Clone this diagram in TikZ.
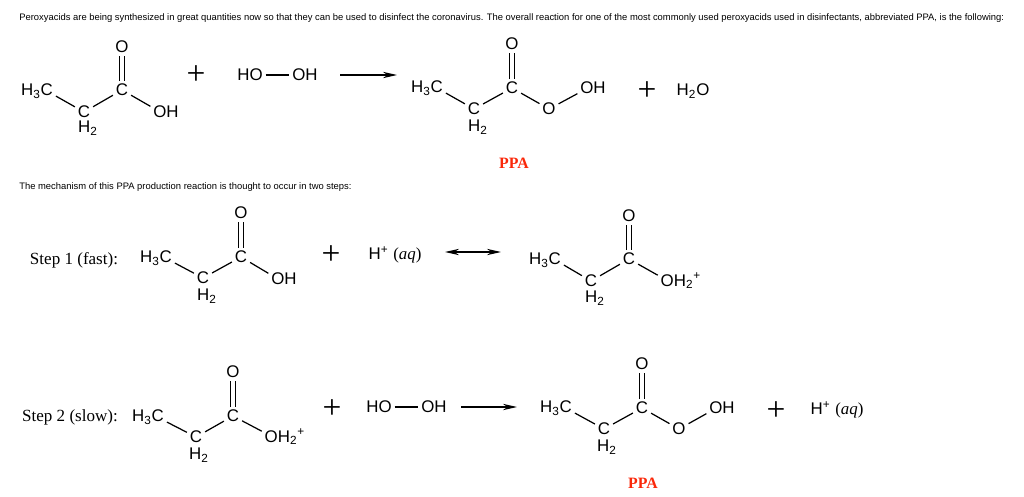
\documentclass[tikz,border=0pt]{standalone}
\usepackage{fontspec}
\usepackage{tikz}
\usetikzlibrary{arrows.meta}
\setmainfont{Liberation Sans}
\newfontfamily\serifface{Liberation Serif}

\begin{document}
\begin{tikzpicture}[x=0.2mm, y=-0.2mm,
    atom_node/.style={inner sep=1.5pt, font=\fontsize{9.6}{11}\selectfont},
    plus_node/.style={inner sep=0pt, font=\serifface\fontsize{19}{20}\selectfont},
    step_node/.style={inner sep=0pt, font=\serifface\fontsize{9.7}{11}\selectfont},
    ppa_node/.style={inner sep=0pt, text=ppa_red, font=\serifface\bfseries\fontsize{9}{11}\selectfont},
    text_node/.style={inner sep=0pt, anchor=west, font=\fontsize{5.35}{6}\selectfont},
    bond/.style={line width=0.7pt},
    double_bond/.style={line width=0.7pt, double, double distance=2.1pt},
    react_arrow/.style={line width=0.7pt, -{Stealth[length=8pt, width=3.6pt]}},
    eq_arrow/.style={line width=0.7pt, {Stealth[length=8pt, width=3.6pt]}-{Stealth[length=8pt, width=3.6pt]}}]
    \definecolor{ppa_red}{RGB}{250,40,10}
    \useasboundingbox (0, 0) rectangle (1024, 497);

    \node[text_node] (intro) at (19, 18) {Peroxyacids are being synthesized in great quantities now so that they can be used to disinfect the coronavirus. The overall reaction for one of the most commonly used peroxyacids used in disinfectants, abbreviated PPA, is the following:};
    \node[text_node] (mech) at (19, 187) {The mechanism of this PPA production reaction is thought to occur in two steps:};

    % overall reaction
    \node[atom_node] (a_ch3) at (37, 91) {H\textsubscript{3}C};
    \node[atom_node] (a_ch2) at (84, 112) {C};
    \node[atom_node] (a_h2) at (88, 128) {H\textsubscript{2}};
    \node[atom_node] (a_c) at (122, 90) {C};
    \node[atom_node] (a_o) at (122, 47) {O};
    \node[atom_node] (a_oh) at (166, 112) {OH};
    \draw[bond] (a_ch3.-15) -- (a_ch2) -- (a_c) -- (a_oh.160);
    \draw[double_bond] (a_c) -- (a_o);
    \node[plus_node] (plus1) at (196, 75) {+};
    \node[atom_node] (a_ho) at (250, 75) {HO};
    \node[atom_node] (a_oh2) at (305, 75) {OH};
    \draw[bond] (a_ho) -- (a_oh2);
    \coordinate (arr1_s) at (340, 75);
    \coordinate (arr1_e) at (397, 75);
    \draw[react_arrow] (arr1_s) -- (arr1_e);
    \node[atom_node] (b_ch3) at (427, 88) {H\textsubscript{3}C};
    \node[atom_node] (b_ch2) at (474, 109) {C};
    \node[atom_node] (b_h2) at (478, 127) {H\textsubscript{2}};
    \node[atom_node] (b_c) at (512, 88) {C};
    \node[atom_node] (b_o) at (512, 44) {O};
    \node[atom_node] (b_ox) at (549, 109) {O};
    \node[atom_node] (b_oh) at (593, 88) {OH};
    \draw[bond] (b_ch3.-15) -- (b_ch2) -- (b_c) -- (b_ox) -- (b_oh.200);
    \draw[double_bond] (b_c) -- (b_o);
    \node[ppa_node] (ppa1) at (514, 163) {PPA};
    \node[plus_node] (plus2) at (647, 91) {+};
    \node[atom_node] (water) at (693, 91) {H\textsubscript{2}O};

    % step 1
    \node[step_node] (step1) at (74, 260) {Step 1 (fast):};
    \node[atom_node] (c_ch3) at (156, 258) {H\textsubscript{3}C};
    \node[atom_node] (c_ch2) at (203, 278) {C};
    \node[atom_node] (c_h2) at (207, 296) {H\textsubscript{2}};
    \node[atom_node] (c_c) at (241, 257) {C};
    \node[atom_node] (c_o) at (241, 213) {O};
    \node[atom_node] (c_oh) at (284, 279) {OH};
    \draw[bond] (c_ch3.-15) -- (c_ch2) -- (c_c) -- (c_oh.160);
    \draw[double_bond] (c_c) -- (c_o);
    \node[plus_node] (plus3) at (331, 255) {+};
    \node[atom_node] (c_hp) at (395, 255) {H\textsuperscript{+} {\serifface(\textit{aq})}};
    \coordinate (arr2_s) at (445, 252);
    \coordinate (arr2_e) at (501, 252);
    \draw[eq_arrow] (arr2_s) -- (arr2_e);
    \node[atom_node] (d_ch3) at (545, 260) {H\textsubscript{3}C};
    \node[atom_node] (d_ch2) at (591, 281) {C};
    \node[atom_node] (d_h2) at (595, 298) {H\textsubscript{2}};
    \node[atom_node] (d_c) at (629, 259) {C};
    \node[atom_node] (d_o) at (629, 216) {O};
    \node[atom_node] (d_oh) at (681, 281) {OH\textsubscript{2}\textsuperscript{+}};
    \draw[bond] (d_ch3.-15) -- (d_ch2) -- (d_c) -- (d_oh.166);
    \draw[double_bond] (d_c) -- (d_o);

    % step 2
    \node[step_node] (step2) at (70, 417) {Step 2 (slow):};
    \node[atom_node] (e_ch3) at (148, 417) {H\textsubscript{3}C};
    \node[atom_node] (e_ch2) at (196, 437) {C};
    \node[atom_node] (e_h2) at (199, 455) {H\textsubscript{2}};
    \node[atom_node] (e_c) at (233, 416) {C};
    \node[atom_node] (e_o) at (233, 372) {O};
    \node[atom_node] (e_oh) at (285, 437) {OH\textsubscript{2}\textsuperscript{+}};
    \draw[bond] (e_ch3.-15) -- (e_ch2) -- (e_c) -- (e_oh.166);
    \draw[double_bond] (e_c) -- (e_o);
    \node[plus_node] (plus4) at (332, 409) {+};
    \node[atom_node] (e_ho) at (379, 407) {HO};
    \node[atom_node] (e_oh2) at (434, 407) {OH};
    \draw[bond] (e_ho) -- (e_oh2);
    \coordinate (arr3_s) at (461, 407);
    \coordinate (arr3_e) at (517, 407);
    \draw[react_arrow] (arr3_s) -- (arr3_e);
    \node[atom_node] (f_ch3) at (556, 408) {H\textsubscript{3}C};
    \node[atom_node] (f_ch2) at (604, 429) {C};
    \node[atom_node] (f_h2) at (607, 447) {H\textsubscript{2}};
    \node[atom_node] (f_c) at (642, 408) {C};
    \node[atom_node] (f_o) at (642, 364) {O};
    \node[atom_node] (f_ox) at (679, 429) {O};
    \node[atom_node] (f_oh) at (722, 408) {OH};
    \draw[bond] (f_ch3.-15) -- (f_ch2) -- (f_c) -- (f_ox) -- (f_oh.200);
    \draw[double_bond] (f_c) -- (f_o);
    \node[ppa_node] (ppa2) at (643, 483) {PPA};
    \node[plus_node] (plus5) at (776, 411) {+};
    \node[atom_node] (f_hp) at (837, 410) {H\textsuperscript{+} {\serifface(\textit{aq})}};
\end{tikzpicture}
\end{document}
